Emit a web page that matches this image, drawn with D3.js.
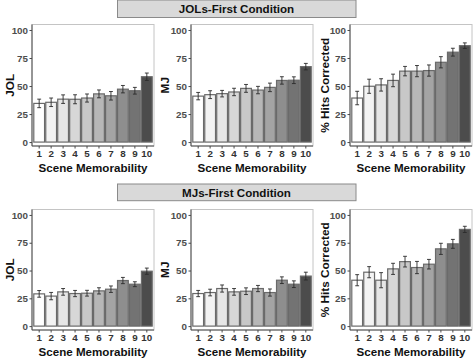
<!DOCTYPE html>
<html>
<head>
<meta charset="utf-8">
<script src="https://cdn.jsdelivr.net/npm/d3@7"></script>
<style>
  html, body { margin: 0; padding: 0; background: #fff; }
  svg { display: block; font-family: "Liberation Sans", Arial, sans-serif; }
</style>
</head>
<body>
<svg id="chart" width="474" height="360"></svg>
<script>
// ---------------- data ----------------
const categories = ["1","2","3","4","5","6","7","8","9","10"];
const yTicks = [0, 25, 50, 75, 100];
const conditionTitles = ["JOLs-First Condition", "MJs-First Condition"];
const measureTitles = ["JOL", "MJ", "% Hits Corrected"];
const xTitle = "Scene Memorability";

// JOLs-First condition
const jolFirstJOL    = [34.5, 35.5, 38.3, 38.2, 39.3, 43.0, 41.3, 47.2, 45.8, 58.3];
const jolFirstJOLErr = [3.8, 3.8, 3.8, 4.0, 3.6, 3.5, 3.8, 3.3, 3.0, 3.3];
const jolFirstMJ     = [41.0, 42.3, 43.2, 44.7, 47.9, 46.4, 48.8, 55.0, 55.2, 67.3];
const jolFirstMJErr  = [3.3, 3.5, 2.9, 3.3, 3.5, 3.3, 3.8, 3.3, 3.0, 2.9];
const jolFirstHits   = [39.3, 49.8, 51.0, 55.0, 63.3, 63.3, 63.8, 71.2, 80.2, 86.0];
const jolFirstHitsErr= [6.0, 6.3, 5.5, 5.6, 4.2, 5.0, 5.0, 5.0, 3.5, 2.5];

// MJs-First condition
const mjFirstJOL     = [29.0, 27.0, 30.8, 29.3, 29.6, 31.7, 33.2, 41.0, 37.7, 49.4];
const mjFirstJOLErr  = [3.0, 3.3, 3.0, 2.8, 2.6, 2.8, 2.9, 2.8, 2.2, 2.8];
const mjFirstMJ      = [29.3, 30.2, 33.8, 30.8, 31.4, 33.8, 30.2, 41.3, 37.7, 45.0];
const mjFirstMJErr   = [2.8, 3.0, 3.2, 3.0, 3.0, 2.8, 3.2, 3.0, 3.0, 3.5];
const mjFirstHits    = [41.3, 48.5, 41.3, 51.5, 58.0, 52.7, 55.7, 69.5, 74.0, 87.0];
const mjFirstHitsErr = [5.0, 5.0, 6.8, 5.0, 4.8, 5.5, 4.3, 5.0, 4.0, 2.8];

// ---------------- layout / style ----------------
const svg = d3.select("#chart");

// grey fill scale similar to ggplot scale_fill_grey(start = 1, end = 0.3)
const gamma = 2.2, gStart = 1, gEnd = 0.3;
const fill = d3.scaleOrdinal().domain(categories).range(categories.map((c, i) => {
  const v = Math.pow(Math.pow(gStart, gamma) + (Math.pow(gEnd, gamma) - Math.pow(gStart, gamma)) * i / (categories.length - 1), 1 / gamma);
  const g = Math.round(v * 255);
  return `rgb(${g},${g},${g})`;
}));

const rows = [
  { top: 24.5, bottom: 146, header: [0, 17.5],
    panels: [[jolFirstJOL, jolFirstJOLErr], [jolFirstMJ, jolFirstMJErr], [jolFirstHits, jolFirstHitsErr]] },
  { top: 209.5, bottom: 330, header: [184, 200.7],
    panels: [[mjFirstJOL, mjFirstJOLErr], [mjFirstMJ, mjFirstMJErr], [mjFirstHits, mjFirstHitsErr]] }
];
const colLeft = [32, 191, 350];
const panelW = 122;
const titleX = [14, 169, 328.5];

rows.forEach((row, ri) => {
  // header strip
  svg.append("rect")
    .attr("x", 117.5).attr("y", row.header[0])
    .attr("width", 238.5).attr("height", row.header[1] - row.header[0])
    .attr("fill", "#d9d9d9").attr("stroke", "#8a8a8a").attr("stroke-width", 1);
  svg.append("text")
    .attr("x", 236.5).attr("y", (row.header[0] + row.header[1]) / 2 + 4.2)
    .attr("text-anchor", "middle")
    .attr("font-size", "11.6px").attr("font-weight", "bold").attr("fill", "#111")
    .text(conditionTitles[ri]);

  row.panels.forEach((pd, ci) => {
    const [vals, errs] = pd;
    const left = colLeft[ci], right = left + panelW;
    const x = d3.scaleBand().domain(categories).range([left, right])
      .paddingInner(0.1).paddingOuter(0.15);
    const y = d3.scaleLinear().domain([-3.5, 104.9]).range([row.bottom, row.top]);

    const g = svg.append("g");

    // panel border
    g.append("rect")
      .attr("x", left).attr("y", row.top)
      .attr("width", panelW).attr("height", row.bottom - row.top)
      .attr("fill", "#fff").attr("stroke", "#c4c4c4").attr("stroke-width", 1);

    // bars
    g.selectAll("rect.bar").data(categories).join("rect")
      .attr("class", "bar")
      .attr("x", d => x(d)).attr("width", x.bandwidth())
      .attr("y", (d, i) => y(vals[i]))
      .attr("height", (d, i) => y(0) - y(vals[i]))
      .attr("fill", d => fill(d))
      .attr("stroke", "#6a6a6a").attr("stroke-width", 1.2);

    // error bars
    const capW = x.bandwidth() * 0.36;
    const eb = g.selectAll("g.eb").data(categories).join("g").attr("class", "eb")
      .attr("stroke", "#2b2b2b").attr("stroke-width", 0.9);
    eb.append("line")
      .attr("x1", d => x(d) + x.bandwidth() / 2).attr("x2", d => x(d) + x.bandwidth() / 2)
      .attr("y1", (d, i) => y(vals[i] - errs[i])).attr("y2", (d, i) => y(vals[i] + errs[i]));
    eb.append("line")
      .attr("x1", d => x(d) + x.bandwidth() / 2 - capW / 2).attr("x2", d => x(d) + x.bandwidth() / 2 + capW / 2)
      .attr("y1", (d, i) => y(vals[i] + errs[i])).attr("y2", (d, i) => y(vals[i] + errs[i]));
    eb.append("line")
      .attr("x1", d => x(d) + x.bandwidth() / 2 - capW / 2).attr("x2", d => x(d) + x.bandwidth() / 2 + capW / 2)
      .attr("y1", (d, i) => y(vals[i] - errs[i])).attr("y2", (d, i) => y(vals[i] - errs[i]));

    // y axis
    const yAxis = d3.axisLeft(y).tickValues(yTicks).tickSize(2.5).tickPadding(1.5).tickFormat(d3.format("d"));
    const ya = g.append("g").attr("transform", `translate(${left},0)`).call(yAxis);
    ya.select(".domain").attr("stroke", "#4a4a4a").attr("stroke-width", 1)
      .attr("d", `M0,${row.top}V${row.bottom}`);
    ya.selectAll(".tick line").attr("stroke", "#4a4a4a");
    ya.selectAll(".tick text").attr("font-size", "9.8px").attr("font-weight", "bold")
      .attr("fill", "#4d4d4d").attr("font-family", "Liberation Sans, Arial, sans-serif");

    // x axis
    const xAxis = d3.axisBottom(x).tickSize(2.5).tickPadding(1.5);
    const xa = g.append("g").attr("transform", `translate(0,${row.bottom})`).call(xAxis);
    xa.select(".domain").attr("stroke", "#4a4a4a").attr("stroke-width", 1)
      .attr("d", `M${left},0H${right}`);
    xa.selectAll(".tick line").attr("stroke", "#4a4a4a");
    xa.selectAll(".tick text").attr("font-size", "9.8px").attr("font-weight", "bold")
      .attr("fill", "#333").attr("font-family", "Liberation Sans, Arial, sans-serif");

    // x title
    g.append("text")
      .attr("x", (left + right) / 2).attr("y", row.bottom + 26)
      .attr("text-anchor", "middle")
      .attr("font-size", "11.6px").attr("font-weight", "bold").attr("fill", "#111")
      .text(xTitle);

    // y title
    g.append("text")
      .attr("transform", `translate(${titleX[ci]},${(row.top + row.bottom) / 2}) rotate(-90)`)
      .attr("text-anchor", "middle")
      .attr("font-size", "11.8px").attr("font-weight", "bold").attr("fill", "#111")
      .text(measureTitles[ci]);
  });
});
</script>
</body>
</html>
